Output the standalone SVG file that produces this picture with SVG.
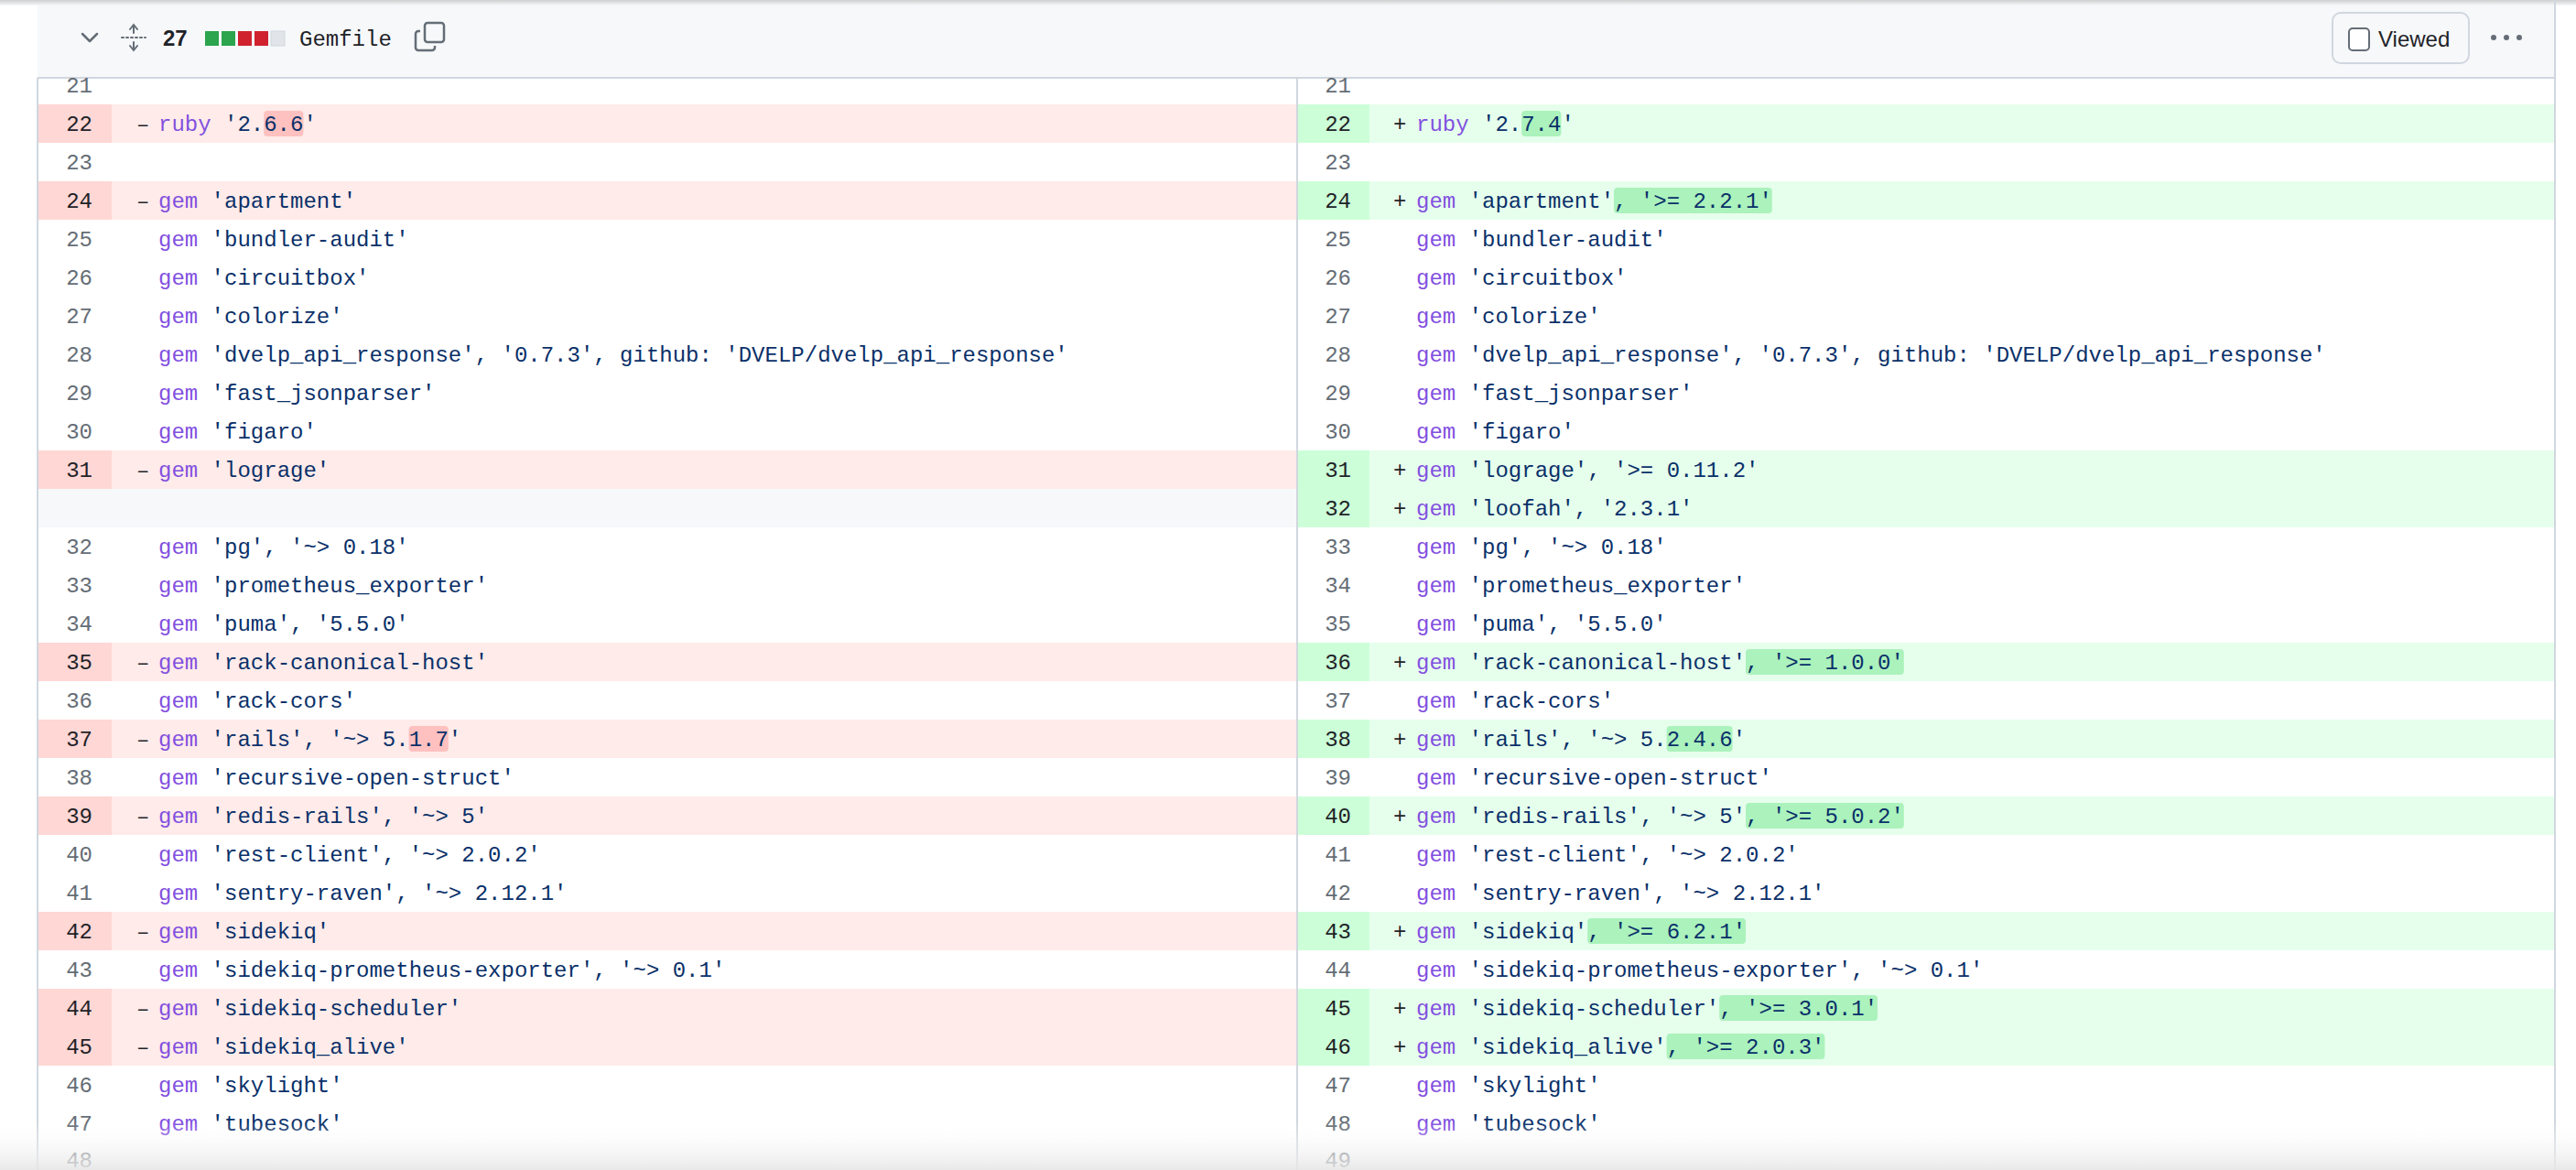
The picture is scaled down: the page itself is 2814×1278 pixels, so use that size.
<svg xmlns="http://www.w3.org/2000/svg" width="2814" height="1278" viewBox="0 0 2814 1278">
<style>
.m{font-family:"Liberation Mono","DejaVu Sans Mono",monospace;font-size:24px;white-space:pre}
.n{fill:#656d76;text-anchor:end}
.nc{fill:#1f2328;text-anchor:end}
.k{fill:#8250df}.s{fill:#0a3069}.p{fill:#1f2328}
.drow{fill:#ffebe9}.dnum{fill:#ffd7d5}.dhl{fill:#ff8182;fill-opacity:.4}
.arow{fill:#e6ffec}.anum{fill:#ccffd8}.ahl{fill:#abf2bc}
.sans{font-family:"Liberation Sans","Noto Sans",sans-serif}
</style>
<defs>
<linearGradient id="fade" x1="0" y1="0" x2="0" y2="1">
<stop offset="0" stop-color="#ffffff" stop-opacity="0"/>
<stop offset="1" stop-color="#e6e6e6" stop-opacity="0.9"/>
</linearGradient>
<linearGradient id="topsh" x1="0" y1="0" x2="0" y2="1">
<stop offset="0" stop-color="#cfcfcf"/>
<stop offset="1" stop-color="#f6f8fa"/>
</linearGradient>
</defs>
<rect width="2814" height="1278" fill="#ffffff"/>
<g id="header">
<rect x="41" y="0" width="2750" height="85" fill="#f6f8fa"/>
<rect x="0" y="0" width="2814" height="6" fill="url(#topsh)"/>
<line x1="41" y1="85" x2="2791" y2="85" stroke="#d0d7de" stroke-width="2"/>
<path d="M90 37 L98 45 L106 37" fill="none" stroke="#656d76" stroke-width="2.5" stroke-linecap="round" stroke-linejoin="round"/>
<g stroke="#656d76" stroke-width="2" fill="none" stroke-linecap="round">
<path d="M146 28 V36 M142 32 L146 27 L150 32 M146 46 V54 M142 50 L146 55 L150 50"/>
<path d="M133 41 H159" stroke-dasharray="2 3"/>
</g>
<text x="178" y="50" class="sans" font-size="24" font-weight="600" fill="#1f2328">27</text>
<rect x="224" y="34" width="15" height="16" fill="#2da44e"/>
<rect x="242" y="34" width="15" height="16" fill="#2da44e"/>
<rect x="260" y="34" width="15" height="16" fill="#cf222e"/>
<rect x="278" y="34" width="15" height="16" fill="#cf222e"/>
<rect x="296" y="34" width="15" height="16" fill="#e1e4e8" stroke="#d0d7de"/>
<text x="327" y="50" class="m" fill="#1f2328">Gemfile</text>
<g fill="none" stroke="#656d76" stroke-width="2.5">
<rect x="464" y="25" width="21" height="21" rx="3"/>
<path d="M459 34 H457 a3 3 0 0 0 -3 3 V52 a3 3 0 0 0 3 3 H472 a3 3 0 0 0 3 -3 V50"/>
</g>
<rect x="2548" y="14" width="149" height="55" rx="9" fill="#f6f8fa" stroke="#d0d7de" stroke-width="2"/>
<rect x="2566" y="31" width="22" height="24" rx="4" fill="#ffffff" stroke="#656d76" stroke-width="2"/>
<text x="2598" y="51" class="sans" font-size="24" fill="#1f2328">Viewed</text>
<circle cx="2724" cy="41" r="3" fill="#656d76"/><circle cx="2738" cy="41" r="3" fill="#656d76"/><circle cx="2752" cy="41" r="3" fill="#656d76"/>
</g>
<g id="panel-borders">
<line x1="41" y1="85" x2="41" y2="1278" stroke="#d0d7de" stroke-width="2"/>
<line x1="2791" y1="0" x2="2791" y2="1278" stroke="#d0d7de" stroke-width="2"/>
<line x1="1417" y1="86" x2="1417" y2="1278" stroke="#d0d7de" stroke-width="2"/>
</g>
<g id="left-pane">
<rect x="42" y="114" width="1374" height="42" class="drow"/><rect x="42" y="114" width="80" height="42" class="dnum"/>
<rect x="42" y="198" width="1374" height="42" class="drow"/><rect x="42" y="198" width="80" height="42" class="dnum"/>
<rect x="42" y="492" width="1374" height="42" class="drow"/><rect x="42" y="492" width="80" height="42" class="dnum"/>
<rect x="42" y="534" width="1374" height="42" fill="#f6f8fa"/>
<rect x="42" y="702" width="1374" height="42" class="drow"/><rect x="42" y="702" width="80" height="42" class="dnum"/>
<rect x="42" y="786" width="1374" height="42" class="drow"/><rect x="42" y="786" width="80" height="42" class="dnum"/>
<rect x="42" y="870" width="1374" height="42" class="drow"/><rect x="42" y="870" width="80" height="42" class="dnum"/>
<rect x="42" y="996" width="1374" height="42" class="drow"/><rect x="42" y="996" width="80" height="42" class="dnum"/>
<rect x="42" y="1080" width="1374" height="42" class="drow"/><rect x="42" y="1080" width="80" height="42" class="dnum"/>
<rect x="42" y="1122" width="1374" height="42" class="drow"/><rect x="42" y="1122" width="80" height="42" class="dnum"/>
<rect x="288.2" y="121" width="43.2" height="28" rx="4" class="dhl"/>
<rect x="446.6" y="793" width="43.2" height="28" rx="4" class="dhl"/>
<g class="m">
<text x="101" y="101" class="n">21</text>
<text x="101" y="143" class="nc">22</text><text x="149" y="143" class="p">–</text><text x="173" y="143"><tspan class="k">ruby</tspan><tspan class="s"> '2.6.6'</tspan></text>
<text x="101" y="185" class="n">23</text>
<text x="101" y="227" class="nc">24</text><text x="149" y="227" class="p">–</text><text x="173" y="227"><tspan class="k">gem</tspan><tspan class="s"> 'apartment'</tspan></text>
<text x="101" y="269" class="n">25</text><text x="173" y="269"><tspan class="k">gem</tspan><tspan class="s"> 'bundler-audit'</tspan></text>
<text x="101" y="311" class="n">26</text><text x="173" y="311"><tspan class="k">gem</tspan><tspan class="s"> 'circuitbox'</tspan></text>
<text x="101" y="353" class="n">27</text><text x="173" y="353"><tspan class="k">gem</tspan><tspan class="s"> 'colorize'</tspan></text>
<text x="101" y="395" class="n">28</text><text x="173" y="395"><tspan class="k">gem</tspan><tspan class="s"> 'dvelp_api_response', '0.7.3', github: 'DVELP/dvelp_api_response'</tspan></text>
<text x="101" y="437" class="n">29</text><text x="173" y="437"><tspan class="k">gem</tspan><tspan class="s"> 'fast_jsonparser'</tspan></text>
<text x="101" y="479" class="n">30</text><text x="173" y="479"><tspan class="k">gem</tspan><tspan class="s"> 'figaro'</tspan></text>
<text x="101" y="521" class="nc">31</text><text x="149" y="521" class="p">–</text><text x="173" y="521"><tspan class="k">gem</tspan><tspan class="s"> 'lograge'</tspan></text>
<text x="101" y="605" class="n">32</text><text x="173" y="605"><tspan class="k">gem</tspan><tspan class="s"> 'pg', '~&gt; 0.18'</tspan></text>
<text x="101" y="647" class="n">33</text><text x="173" y="647"><tspan class="k">gem</tspan><tspan class="s"> 'prometheus_exporter'</tspan></text>
<text x="101" y="689" class="n">34</text><text x="173" y="689"><tspan class="k">gem</tspan><tspan class="s"> 'puma', '5.5.0'</tspan></text>
<text x="101" y="731" class="nc">35</text><text x="149" y="731" class="p">–</text><text x="173" y="731"><tspan class="k">gem</tspan><tspan class="s"> 'rack-canonical-host'</tspan></text>
<text x="101" y="773" class="n">36</text><text x="173" y="773"><tspan class="k">gem</tspan><tspan class="s"> 'rack-cors'</tspan></text>
<text x="101" y="815" class="nc">37</text><text x="149" y="815" class="p">–</text><text x="173" y="815"><tspan class="k">gem</tspan><tspan class="s"> 'rails', '~&gt; 5.1.7'</tspan></text>
<text x="101" y="857" class="n">38</text><text x="173" y="857"><tspan class="k">gem</tspan><tspan class="s"> 'recursive-open-struct'</tspan></text>
<text x="101" y="899" class="nc">39</text><text x="149" y="899" class="p">–</text><text x="173" y="899"><tspan class="k">gem</tspan><tspan class="s"> 'redis-rails', '~&gt; 5'</tspan></text>
<text x="101" y="941" class="n">40</text><text x="173" y="941"><tspan class="k">gem</tspan><tspan class="s"> 'rest-client', '~&gt; 2.0.2'</tspan></text>
<text x="101" y="983" class="n">41</text><text x="173" y="983"><tspan class="k">gem</tspan><tspan class="s"> 'sentry-raven', '~&gt; 2.12.1'</tspan></text>
<text x="101" y="1025" class="nc">42</text><text x="149" y="1025" class="p">–</text><text x="173" y="1025"><tspan class="k">gem</tspan><tspan class="s"> 'sidekiq'</tspan></text>
<text x="101" y="1067" class="n">43</text><text x="173" y="1067"><tspan class="k">gem</tspan><tspan class="s"> 'sidekiq-prometheus-exporter', '~&gt; 0.1'</tspan></text>
<text x="101" y="1109" class="nc">44</text><text x="149" y="1109" class="p">–</text><text x="173" y="1109"><tspan class="k">gem</tspan><tspan class="s"> 'sidekiq-scheduler'</tspan></text>
<text x="101" y="1151" class="nc">45</text><text x="149" y="1151" class="p">–</text><text x="173" y="1151"><tspan class="k">gem</tspan><tspan class="s"> 'sidekiq_alive'</tspan></text>
<text x="101" y="1193" class="n">46</text><text x="173" y="1193"><tspan class="k">gem</tspan><tspan class="s"> 'skylight'</tspan></text>
<text x="101" y="1235" class="n">47</text><text x="173" y="1235"><tspan class="k">gem</tspan><tspan class="s"> 'tubesock'</tspan></text>
<text x="101" y="1275" class="n">48</text>
</g>
</g>
<g id="right-pane">
<rect x="1418" y="114" width="1372" height="42" class="arow"/><rect x="1418" y="114" width="78" height="42" class="anum"/>
<rect x="1418" y="198" width="1372" height="42" class="arow"/><rect x="1418" y="198" width="78" height="42" class="anum"/>
<rect x="1418" y="492" width="1372" height="84" class="arow"/><rect x="1418" y="492" width="78" height="84" class="anum"/>
<rect x="1418" y="702" width="1372" height="42" class="arow"/><rect x="1418" y="702" width="78" height="42" class="anum"/>
<rect x="1418" y="786" width="1372" height="42" class="arow"/><rect x="1418" y="786" width="78" height="42" class="anum"/>
<rect x="1418" y="870" width="1372" height="42" class="arow"/><rect x="1418" y="870" width="78" height="42" class="anum"/>
<rect x="1418" y="996" width="1372" height="42" class="arow"/><rect x="1418" y="996" width="78" height="42" class="anum"/>
<rect x="1418" y="1080" width="1372" height="84" class="arow"/><rect x="1418" y="1080" width="78" height="84" class="anum"/>
<rect x="1662.2" y="121" width="43.2" height="28" rx="4" class="ahl"/>
<rect x="1763" y="205" width="172.8" height="28" rx="4" class="ahl"/>
<rect x="1907" y="709" width="172.8" height="28" rx="4" class="ahl"/>
<rect x="1820.6" y="793" width="72" height="28" rx="4" class="ahl"/>
<rect x="1907" y="877" width="172.8" height="28" rx="4" class="ahl"/>
<rect x="1734.2" y="1003" width="172.8" height="28" rx="4" class="ahl"/>
<rect x="1878.2" y="1087" width="172.8" height="28" rx="4" class="ahl"/>
<rect x="1820.6" y="1129" width="172.8" height="28" rx="4" class="ahl"/>
<g class="m">
<text x="1476" y="101" class="n">21</text>
<text x="1476" y="143" class="nc">22</text><text x="1522" y="143" class="p">+</text><text x="1547" y="143"><tspan class="k">ruby</tspan><tspan class="s"> '2.7.4'</tspan></text>
<text x="1476" y="185" class="n">23</text>
<text x="1476" y="227" class="nc">24</text><text x="1522" y="227" class="p">+</text><text x="1547" y="227"><tspan class="k">gem</tspan><tspan class="s"> 'apartment', '&gt;= 2.2.1'</tspan></text>
<text x="1476" y="269" class="n">25</text><text x="1547" y="269"><tspan class="k">gem</tspan><tspan class="s"> 'bundler-audit'</tspan></text>
<text x="1476" y="311" class="n">26</text><text x="1547" y="311"><tspan class="k">gem</tspan><tspan class="s"> 'circuitbox'</tspan></text>
<text x="1476" y="353" class="n">27</text><text x="1547" y="353"><tspan class="k">gem</tspan><tspan class="s"> 'colorize'</tspan></text>
<text x="1476" y="395" class="n">28</text><text x="1547" y="395"><tspan class="k">gem</tspan><tspan class="s"> 'dvelp_api_response', '0.7.3', github: 'DVELP/dvelp_api_response'</tspan></text>
<text x="1476" y="437" class="n">29</text><text x="1547" y="437"><tspan class="k">gem</tspan><tspan class="s"> 'fast_jsonparser'</tspan></text>
<text x="1476" y="479" class="n">30</text><text x="1547" y="479"><tspan class="k">gem</tspan><tspan class="s"> 'figaro'</tspan></text>
<text x="1476" y="521" class="nc">31</text><text x="1522" y="521" class="p">+</text><text x="1547" y="521"><tspan class="k">gem</tspan><tspan class="s"> 'lograge', '&gt;= 0.11.2'</tspan></text>
<text x="1476" y="563" class="nc">32</text><text x="1522" y="563" class="p">+</text><text x="1547" y="563"><tspan class="k">gem</tspan><tspan class="s"> 'loofah', '2.3.1'</tspan></text>
<text x="1476" y="605" class="n">33</text><text x="1547" y="605"><tspan class="k">gem</tspan><tspan class="s"> 'pg', '~&gt; 0.18'</tspan></text>
<text x="1476" y="647" class="n">34</text><text x="1547" y="647"><tspan class="k">gem</tspan><tspan class="s"> 'prometheus_exporter'</tspan></text>
<text x="1476" y="689" class="n">35</text><text x="1547" y="689"><tspan class="k">gem</tspan><tspan class="s"> 'puma', '5.5.0'</tspan></text>
<text x="1476" y="731" class="nc">36</text><text x="1522" y="731" class="p">+</text><text x="1547" y="731"><tspan class="k">gem</tspan><tspan class="s"> 'rack-canonical-host', '&gt;= 1.0.0'</tspan></text>
<text x="1476" y="773" class="n">37</text><text x="1547" y="773"><tspan class="k">gem</tspan><tspan class="s"> 'rack-cors'</tspan></text>
<text x="1476" y="815" class="nc">38</text><text x="1522" y="815" class="p">+</text><text x="1547" y="815"><tspan class="k">gem</tspan><tspan class="s"> 'rails', '~&gt; 5.2.4.6'</tspan></text>
<text x="1476" y="857" class="n">39</text><text x="1547" y="857"><tspan class="k">gem</tspan><tspan class="s"> 'recursive-open-struct'</tspan></text>
<text x="1476" y="899" class="nc">40</text><text x="1522" y="899" class="p">+</text><text x="1547" y="899"><tspan class="k">gem</tspan><tspan class="s"> 'redis-rails', '~&gt; 5', '&gt;= 5.0.2'</tspan></text>
<text x="1476" y="941" class="n">41</text><text x="1547" y="941"><tspan class="k">gem</tspan><tspan class="s"> 'rest-client', '~&gt; 2.0.2'</tspan></text>
<text x="1476" y="983" class="n">42</text><text x="1547" y="983"><tspan class="k">gem</tspan><tspan class="s"> 'sentry-raven', '~&gt; 2.12.1'</tspan></text>
<text x="1476" y="1025" class="nc">43</text><text x="1522" y="1025" class="p">+</text><text x="1547" y="1025"><tspan class="k">gem</tspan><tspan class="s"> 'sidekiq', '&gt;= 6.2.1'</tspan></text>
<text x="1476" y="1067" class="n">44</text><text x="1547" y="1067"><tspan class="k">gem</tspan><tspan class="s"> 'sidekiq-prometheus-exporter', '~&gt; 0.1'</tspan></text>
<text x="1476" y="1109" class="nc">45</text><text x="1522" y="1109" class="p">+</text><text x="1547" y="1109"><tspan class="k">gem</tspan><tspan class="s"> 'sidekiq-scheduler', '&gt;= 3.0.1'</tspan></text>
<text x="1476" y="1151" class="nc">46</text><text x="1522" y="1151" class="p">+</text><text x="1547" y="1151"><tspan class="k">gem</tspan><tspan class="s"> 'sidekiq_alive', '&gt;= 2.0.3'</tspan></text>
<text x="1476" y="1193" class="n">47</text><text x="1547" y="1193"><tspan class="k">gem</tspan><tspan class="s"> 'skylight'</tspan></text>
<text x="1476" y="1235" class="n">48</text><text x="1547" y="1235"><tspan class="k">gem</tspan><tspan class="s"> 'tubesock'</tspan></text>
<text x="1476" y="1275" class="n">49</text>
</g>
</g>
<rect x="0" y="1225" width="2814" height="53" fill="url(#fade)"/>
</svg>
